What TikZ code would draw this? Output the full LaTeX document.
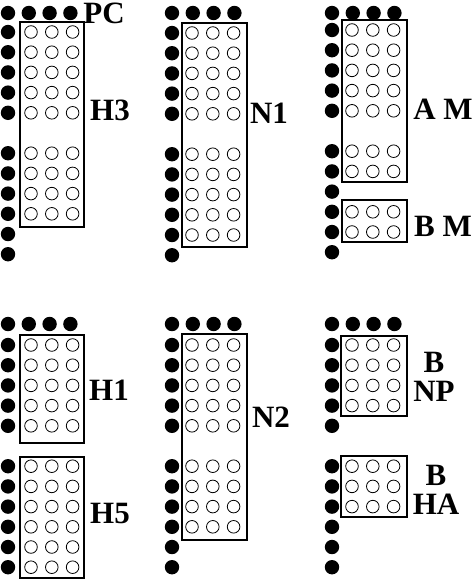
\documentclass[tikz,border=0pt]{standalone}
\usepackage{fontspec}
\setmainfont{Liberation Serif}
\usepackage{tikz}
\tikzset{
    bead/.style = {fill=black},
    hole/.style = {draw=black, line width=0.8pt, fill=white},
    cage/.style = {draw=black, line width=1.7pt},
    lbl/.style  = {font=\bfseries\fontsize{31}{29}\selectfont, align=center, inner sep=0pt},
    pics/beadrow/.style = {
        code = {%
        \foreach \i in {0,1,2,3}
            \fill[bead] (20.8*\i,0) circle (7.2pt);
        }
    },
    pics/holerow/.style = {
        code = {%
        \foreach \i in {0,1,2}
            \draw[hole] (20.8*\i,0) circle (6.3pt);
        }
    },
}

\begin{document}
\begin{tikzpicture}[x=1pt,y=-1pt]
    \useasboundingbox (0,0) rectangle (474,579);

    % H3
    \pic at (8,13) {beadrow};
    \foreach \k in {0,1,2,3,4,6,7,8,9,10,11}
        \fill[bead] (8,{32+20.2*\k}) circle (7.2pt);
    \draw[cage] (20,22) rectangle (84,227);
    \foreach \k in {0,1,2,3,4,6,7,8,9}
        \pic at (31,{32+20.2*\k}) {holerow};
    \node[lbl] (pc) at (104,13) {PC};
    \node[lbl] (h3) at (110,110) {H3};

    % N1
    \pic at (172,13) {beadrow};
    \foreach \k in {0,1,2,3,4,6,7,8,9,10,11}
        \fill[bead] (172,{33+20.2*\k}) circle (7.2pt);
    \draw[cage] (182,23) rectangle (247,247);
    \foreach \k in {0,1,2,3,4,6,7,8,9,10}
        \pic at (192,{33+20.2*\k}) {holerow};
    \node[lbl] (n1) at (269,113) {N1};

    % A M / B M
    \pic at (332,13) {beadrow};
    \foreach \k in {0,1,2,3,4,6,7,8,9,10,11}
        \fill[bead] (332,{30+20.2*\k}) circle (7.2pt);
    \draw[cage] (342,20) rectangle (407,182);
    \foreach \k in {0,1,2,3,4,6,7}
        \pic at (352,{30+20.2*\k}) {holerow};
    \draw[cage] (342,200) rectangle (407,242);
    \foreach \k in {9,10}
        \pic at (352,{30+20.2*\k}) {holerow};
    \node[lbl] (am) at (443,109) {A M};
    \node[lbl] (bm) at (443,226) {B M};

    % H1 / H5
    \pic at (8,324) {beadrow};
    \foreach \k in {0,1,2,3,4,6,7,8,9,10,11}
        \fill[bead] (8,{345+20.2*\k}) circle (7.2pt);
    \draw[cage] (20,335) rectangle (84,443);
    \foreach \k in {0,1,2,3,4}
        \pic at (31,{345+20.2*\k}) {holerow};
    \draw[cage] (20,457) rectangle (84,578);
    \foreach \k in {6,7,8,9,10,11}
        \pic at (31,{345+20.2*\k}) {holerow};
    \node[lbl] (h1) at (109,390) {H1};
    \node[lbl] (h5) at (110,513) {H5};

    % N2
    \pic at (172,324) {beadrow};
    \foreach \k in {0,1,2,3,4,6,7,8,9,10,11}
        \fill[bead] (172,{345+20.2*\k}) circle (7.2pt);
    \draw[cage] (182,334) rectangle (247,540);
    \foreach \k in {0,1,2,3,4,6,7,8,9}
        \pic at (192,{345+20.2*\k}) {holerow};
    \node[lbl] (n2) at (271,417) {N2};

    % B NP / B HA
    \pic at (332,324) {beadrow};
    \foreach \k in {0,1,2,3,4,6,7,8,9,10,11}
        \fill[bead] (332,{345+20.2*\k}) circle (7.2pt);
    \draw[cage] (341,336) rectangle (407,416);
    \foreach \k in {0,1,2,3}
        \pic at (352,{345+20.2*\k}) {holerow};
    \draw[cage] (341,456) rectangle (407,517);
    \foreach \k in {6,7,8}
        \pic at (352,{345+20.2*\k}) {holerow};
    \node[lbl] (bnp) at (434,377) {B\\NP};
    \node[lbl] (bha) at (436,490) {B\\HA};
\end{tikzpicture}
\end{document}
